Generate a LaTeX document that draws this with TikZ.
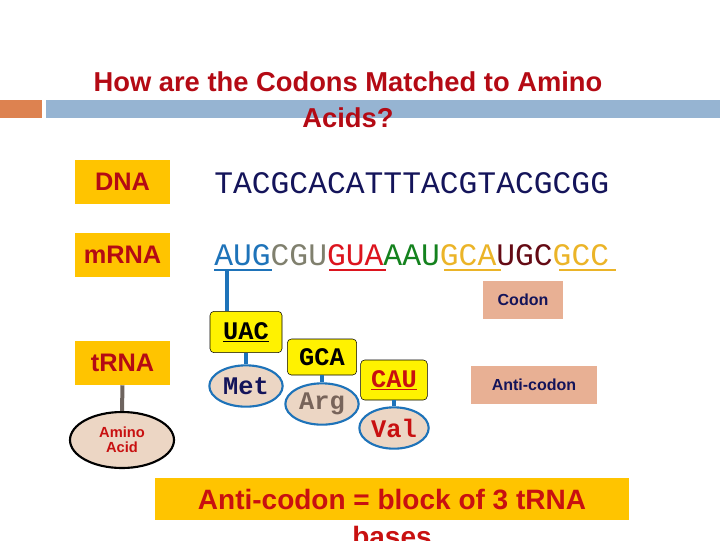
\documentclass[tikz,border=0pt]{standalone}
\usepackage{fontspec}
\setmainfont{Liberation Sans}
\newfontfamily\monof{Liberation Mono}
\usetikzlibrary{calc,shapes.geometric}
\definecolor{dred}{RGB}{180,10,20}
\definecolor{tred}{RGB}{200,16,16}
\definecolor{orng}{RGB}{255,196,0}
\definecolor{obar}{RGB}{221,130,80}
\definecolor{bbar}{RGB}{150,180,210}
\definecolor{navy}{RGB}{20,20,90}
\definecolor{tan}{RGB}{232,176,148}
\definecolor{beig}{RGB}{236,214,196}
\definecolor{lblue}{RGB}{30,115,185}
\definecolor{cgu}{RGB}{128,128,110}
\definecolor{gua}{RGB}{220,20,30}
\definecolor{aau}{RGB}{20,130,30}
\definecolor{gold}{RGB}{235,180,40}
\definecolor{maro}{RGB}{100,10,20}
\definecolor{argc}{RGB}{120,100,90}
\definecolor{stem}{RGB}{110,100,95}
\begin{document}
\begin{tikzpicture}[x=0.75pt,y=-0.75pt,
  lab/.style={fill=orng,text=dred,font=\bfseries\fontsize{19}{21}\selectfont,inner sep=0pt,minimum width=71.25pt,minimum height=33pt},
  anti/.style={draw=black,fill=yellow,rounded corners=3pt,inner sep=0pt,font=\monof\bfseries\fontsize{19}{21}\selectfont},
  amino/.style={ellipse,draw=lblue,line width=1.6pt,fill=beig,inner sep=0pt,font=\monof\bfseries\fontsize{19}{21}\selectfont},
  tanbox/.style={fill=tan,text=navy,font=\bfseries\fontsize{12}{14}\selectfont,inner sep=0pt},
  stemline/.style={lblue,line width=3pt}]
\useasboundingbox (0,0) rectangle (720,540);
\clip (0,0) rectangle (720,540);
% bars
\fill[obar] (0,100) rectangle (42,118);
\fill[bbar] (46,100) rectangle (720,118);
% title
\node[text=dred,font=\bfseries\fontsize{20.5}{27}\selectfont,align=center] (title) at (348,100) {How are the Codons Matched to Amino\\Acids?};
% labels
\node[lab] (dna) at (122.5,182) {DNA};
\node[lab] (mrna) at (122.5,255) {mRNA};
\node[lab] (trna) at (122.5,363) {tRNA};
% sequences
\node[anchor=west,inner sep=0pt,text=navy,font=\monof\fontsize{23.5}{26}\selectfont] (dseq) at (214,183) {TACGCACATTTACGTACGCGG};
\node[anchor=west,inner sep=0pt,font=\monof\fontsize{23.5}{26}\selectfont] (mseq) at (214,255)
 {\textcolor{lblue}{AUG}\textcolor{cgu}{CGU}\textcolor{gua}{GUA}\textcolor{aau}{AAU}\textcolor{gold}{GCA}\textcolor{maro}{UGC}\textcolor{gold}{GCC}};
% underlines
\draw[lblue,line width=1.6pt] (214,270) -- (272,270);
\draw[gua,line width=1.6pt] (329,270) -- (386,270);
\draw[gold,line width=1.6pt] (444,270) -- (501,270);
\draw[gold,line width=1.6pt] (559,270) -- (616,270);
\coordinate (aug) at (227,271);
% tRNA / amino acid
\node[ellipse,draw=black,line width=1.6pt,fill=beig,minimum width=78pt,minimum height=42pt,inner sep=0pt,text=tred,font=\bfseries\fontsize{11}{11}\selectfont,align=center] (aa) at (122,440) {Amino\\Acid};
\draw[stem,line width=3pt] (trna.south) -- (aa.north);
% anticodons
\node[anti,minimum width=54pt,minimum height=31pt] (uac) at (246,332) {\underline{UAC}};
\node[anti,minimum width=52pt,minimum height=27pt] (gca) at (322,357) {GCA};
\node[anti,minimum width=50pt,minimum height=30pt,text=tred] (cau) at (394,380) {\underline{CAU}};
\node[amino,minimum width=55pt,minimum height=31pt,text=navy] (met) at (246,386) {Met};
\node[amino,minimum width=55pt,minimum height=31pt,text=argc] (arg) at (322,404) {Arg};
\node[amino,minimum width=52pt,minimum height=31pt,text=tred] (val) at (394,428) {Val};
\draw[stemline] (aug) -- (aug |- uac.north);
\draw[stemline] (uac.south) -- (met.north);
\draw[stemline] (gca.south) -- (arg.north);
\draw[stemline] (cau.south) -- (val.north);
% tan boxes
\node[tanbox,minimum width=60pt,minimum height=28pt] (codon) at (523,300) {Codon};
\node[tanbox,minimum width=94.5pt,minimum height=28pt] (anticodon) at (534,385) {Anti-codon};
% bottom
\fill[orng] (155,478) rectangle (629,520);
\node[text=tred,font=\bfseries\fontsize{21}{28}\selectfont,align=center] (note) at (392,518) {Anti-codon = block of 3 tRNA\\bases};
\end{tikzpicture}
\end{document}
